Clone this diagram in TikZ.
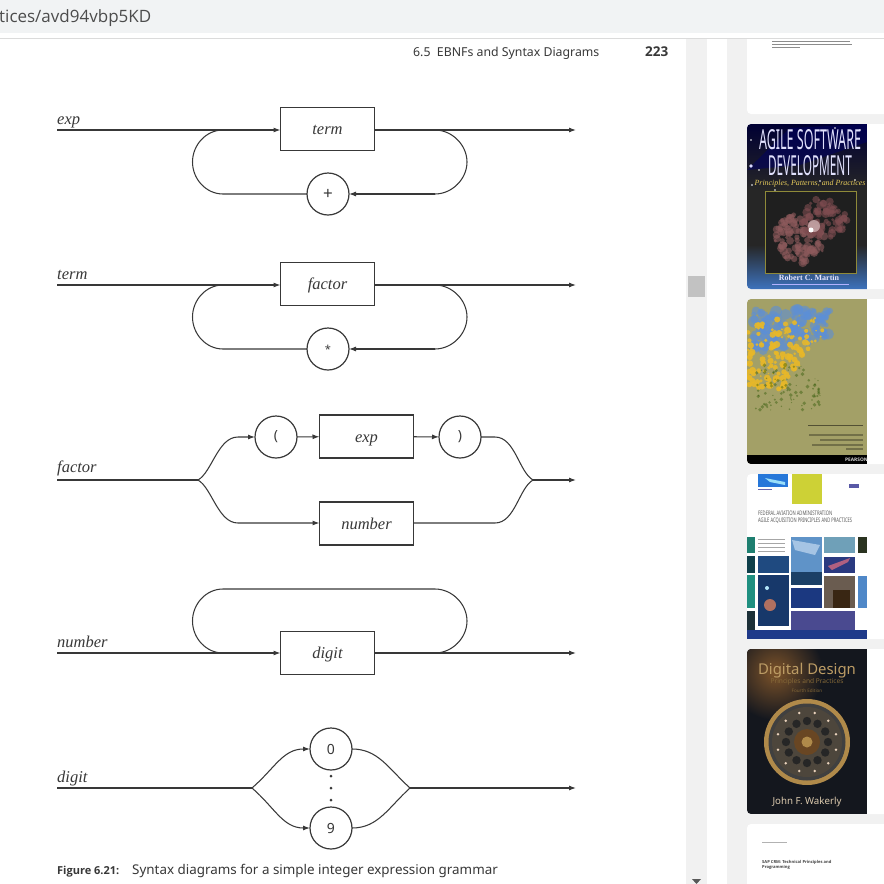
\documentclass[tikz,border=0pt]{standalone}
\usepackage{fontspec}
\usepackage{graphicx}
\setmainfont{Liberation Serif}
\newfontfamily\uifont{Open Sans}
\newfontfamily\hdfont{Noto Sans}
\usetikzlibrary{arrows.meta}
\definecolor{ink}{HTML}{383838}
\definecolor{chrome}{HTML}{F1F3F4}
\definecolor{track}{HTML}{F1F1F1}
\tikzset{
  wire/.style={draw=ink,line width=1.05pt},
  arr/.style={wire,-{Latex[length=7pt,width=5pt]}},
  termbox/.style={draw=ink,line width=1.2pt,minimum width=94pt,minimum height=43pt,inner sep=0pt,outer sep=0pt,text height=11pt,text depth=0pt,font=\itshape\fontsize{16.5}{16.5}\selectfont,text=ink},
  tok/.style={draw=ink,line width=1.2pt,circle,minimum size=42pt,inner sep=0pt,outer sep=0pt,font=\hdfont\fontsize{14}{14}\selectfont,text=ink},
  lab/.style={anchor=base west,inner sep=0pt,font=\itshape\fontsize{16.5}{16.5}\selectfont,text=ink},
  captxt/.style={anchor=base west,inner sep=0pt,font=\hdfont\fontsize{13.4}{13.4}\selectfont,text=ink},
  cardbg/.style={fill=white,rounded corners=4pt},
  covertext/.style={inner sep=0pt},
}
\begin{document}
\begin{tikzpicture}[x=1pt,y=-1pt]
\useasboundingbox (0,0) rectangle (884,884);
\fill[white] (0,0) rectangle (884,884);
% browser chrome
\fill[chrome] (0,0) rectangle (884,33);
\fill[color=black!14] (0,37.5) rectangle (884,39);
\begin{scope}
\clip (0,0) rectangle (884,33);
\node[anchor=base west,inner sep=0pt,font=\uifont\fontsize{17}{17}\selectfont,text=black!70] (url) at (-1,22) {tices/avd94vbp5KD};
\end{scope}
% scroll bar and side panel
\fill[track] (686,39) rectangle (707,884);
\fill[black!24] (688,276) rectangle (705,297);
\fill[black!65] (692,879) -- (701,879) -- (696.5,884) -- cycle;
\fill[track] (727,39) rectangle (884,884);

\begin{scope}
\clip (0,39) rectangle (884,884);
% card 1
\fill[cardbg] (747,30) rectangle (900,114);
\fill[black!45] (772,40.5) rectangle (850,42);
\fill[black!45] (772,43.5) rectangle (852,45);
\fill[black!45] (772,46.5) rectangle (800,48);

% cover 2 : Agile
\definecolor{agblue}{HTML}{3D72BC}
\definecolor{nebA}{HTML}{8E5A5C}
\definecolor{nebB}{HTML}{7E4C50}
\fill[cardbg] (747,124) rectangle (900,289);
\begin{scope}
\clip[rounded corners=4pt] (747,124) rectangle (880,289);
\shade[top color=black!80!blue,bottom color=black!85] (747,124) rectangle (867,190);
\fill[blue!40!black,opacity=.5] (747,170) -- (790,128) -- (867,124) -- (867,142) -- (800,165) -- cycle;
\shade[top color=black!85,bottom color=black!85] (747,190) rectangle (867,245);
\shade[top color=black!85,bottom color=agblue] (747,245) rectangle (867,289);
\fill[white] (867,124) rectangle (880,289);
\end{scope}
\draw[color=olive!60!gray,line width=1pt,fill=black!88] (765,191) rectangle (856,273);
\pgfmathsetseed{5}
\foreach \i in {1,...,110}{
  \pgfmathsetmacro{\ang}{rnd*360}
  \pgfmathsetmacro{\rad}{sqrt(rnd)}
  \pgfmathsetmacro{\dx}{800+26*\rad*cos(\ang)}
  \pgfmathsetmacro{\dy}{238+25*\rad*sin(\ang)}
  \pgfmathsetmacro{\dr}{1.5+rnd*3}
  \fill[color=nebA,opacity=.6] (\dx,\dy) circle (\dr pt);
}
\foreach \i in {1,...,90}{
  \pgfmathsetmacro{\ang}{rnd*360}
  \pgfmathsetmacro{\rad}{sqrt(rnd)}
  \pgfmathsetmacro{\dx}{824+23*\rad*cos(\ang)}
  \pgfmathsetmacro{\dy}{218+20*\rad*sin(\ang)}
  \pgfmathsetmacro{\dr}{1.5+rnd*3}
  \fill[color=nebB,opacity=.6] (\dx,\dy) circle (\dr pt);
}
\fill[white!70!pink,opacity=.5] (814,226) circle (6pt);
\fill[white] (811,230) circle (2.5pt);
\foreach \sx/\sy in {751/140,759/170,775/190,860/130,855/180,752/185,820/181,835/128}{\fill[white] (\sx,\sy) circle (0.8pt);}
\fill[white!85!blue] (751,166) circle (1.8pt);
\node[covertext,text=black!10!blue!12!white] (ag1) at (810,140) {\resizebox{102pt}{20pt}{\hdfont AGILE SOFTWARE}};
\node[covertext,text=black!10!blue!12!white] (ag2) at (810,165.5) {\resizebox{84pt}{20pt}{\hdfont DEVELOPMENT}};
\node[covertext,text=yellow!50!brown!80!white,font=\itshape\fontsize{7.9}{7.9}\selectfont] (ag3) at (810,184) {Principles, Patterns, and Practices};
\node[covertext,text=white!90!blue,font=\bfseries\fontsize{8}{8}\selectfont] (ag4) at (809,278) {Robert C. Martin};
\fill[white!70!blue] (772,283.5) rectangle (849,285);

% cover 3 : flowers
\definecolor{khaki}{HTML}{A3A067}
\definecolor{skyb}{HTML}{5C8FD8}
\definecolor{petal}{HTML}{E8B828}
\fill[cardbg] (747,299) rectangle (900,464);
\begin{scope}
\clip[rounded corners=4pt] (747,299) rectangle (880,464);
\fill[khaki] (747,299) rectangle (867,464);
\fill[black] (747,455) rectangle (867,464);
\fill[white] (867,299) rectangle (880,464);
\pgfmathsetseed{17}
\foreach \i in {1,...,110}{
  \pgfmathsetmacro{\dx}{752+rnd*78}
  \pgfmathsetmacro{\dy}{309+rnd*(44-(\dx-752)*0.2)}
  \pgfmathsetmacro{\dr}{2+rnd*4}
  \fill[color=skyb,opacity=.6] (\dx,\dy) circle (\dr pt);
}
\foreach \i in {1,...,150}{
  \pgfmathsetmacro{\dy}{318+rnd*72}
  \pgfmathsetmacro{\dx}{747+rnd*(88-(\dy-318)*0.75)}
  \pgfmathsetmacro{\dr}{0.8+rnd*2.8}
  \fill[color=petal,opacity=.9] (\dx,\dy) circle (\dr pt);
}
\foreach \i in {1,...,90}{
  \pgfmathsetmacro{\dy}{365+rnd*45}
  \pgfmathsetmacro{\dx}{755+rnd*65}
  \pgfmathsetmacro{\dr}{0.5+rnd*1.5}
  \fill[green!25!black!70!olive,opacity=.4] (\dx,\dy) circle (\dr pt);
}
\end{scope}
\fill[black!50!khaki] (808,424.5) rectangle (863,426);
\fill[black!30!khaki] (809,434) rectangle (863,436);
\fill[black!30!khaki] (820,439) rectangle (863,441);
\fill[black!30!khaki] (812,443.5) rectangle (863,445.5);
\fill[black!30!khaki] (846,448) rectangle (863,450);
\node[anchor=west,covertext,text=white!85!black,font=\uifont\bfseries\fontsize{4.8}{4.8}\selectfont] (pe) at (845,459.5) {PEARSON};

% cover 4 : FAA
\fill[cardbg] (747,474) rectangle (900,639);
\fill[blue!55!cyan!70!gray] (758,474) rectangle (788,487);
\fill[color=white!60!cyan] (765,478) -- (785,482) -- (785,485) -- (770,482) -- cycle;
\fill[black!55!blue!60!white] (758,488.5) rectangle (772,490);
\definecolor{lime}{HTML}{CDD136}
\fill[lime] (792,474) rectangle (822,504);
\fill[blue!30!gray] (849,484) rectangle (859,488);
\node[anchor=west,covertext,text=black!65] (fa1) at (758,513.5) {\resizebox{74pt}{4.5pt}{\hdfont FEDERAL AVIATION ADMINISTRATION}};
\node[anchor=west,covertext,text=black!65] (fa2) at (758,520.5) {\resizebox{94pt}{4.5pt}{\hdfont AGILE ACQUISITION PRINCIPLES AND PRACTICES}};
\foreach \xa/\ya/\xb/\yb/\cc in {
 747/537/755/553/1E7F70,
 747/556/755/573/0F3F4A,
 747/575/755/608/1F8F80,
 747/611/755/630/1C3038,
 791/537/822/585/5F93C8,
 824/537/855/553/6FA0B8,
 858/537/867/553/2A3320,
 758/556/789/573/1F4A80,
 824/557/855/573/2A3A80,
 758/575/789/626/17386A,
 791/588/822/608/1B3880,
 824/576/855/608/6A5C50,
 858/576/867/608/4F88C8,
 791/611/855/630/4A4A90,
 747/630/867/639/1F3A8A}{
  \definecolor{tile}{HTML}{\cc}
  \fill[tile] (\xa,\ya) rectangle (\xb,\yb);
}
\definecolor{cloud}{HTML}{A5C4E4}
\definecolor{deep}{HTML}{1B3F66}
\definecolor{streak}{HTML}{B06080}
\definecolor{hand}{HTML}{B07060}
\fill[cloud] (792,540) -- (820,545) -- (815,555) -- (795,550) -- cycle;
\fill[deep] (791,572) rectangle (822,585);
\fill[black!70!brown] (833,590) rectangle (850,608);
\fill[streak] (828,566) -- (850,558) -- (848,562) -- (832,570) -- cycle;
\fill[hand] (770,605) circle (6pt);
\fill[white!70!cyan] (767,588) circle (2pt);
\foreach \ly in {539,543,547,551}{\fill[black!35] (758,\ly) rectangle (785,\ly+1);}

% cover 5 : Digital Design
\definecolor{dd}{HTML}{14171E}
\definecolor{gold}{HTML}{B08A4A}
\definecolor{hub}{HTML}{4D463C}
\fill[cardbg] (747,649) rectangle (900,814);
\begin{scope}
\clip[rounded corners=4pt] (747,649) rectangle (880,814);
\fill[dd] (747,649) rectangle (867,814);
\shade[inner color=brown!65!black,outer color=dd] (775,672) circle (48pt);
\fill[white] (867,649) rectangle (880,814);
\end{scope}
\fill[gold] (807,742) circle (43pt);
\fill[black!75] (807,742) circle (38.5pt);
\fill[hub] (807,742) circle (35pt);
\foreach \a in {0,30,...,330}{
  \fill[black!85] (807,742) ++(\a:21pt) circle (4.2pt);
  \fill[white!65!brown] (807,742) ++(\a+15:30pt) circle (1.4pt);
}
\fill[black!45!brown] (807,742) circle (13pt);
\fill[gold] (807,742) circle (5.5pt);
\node[covertext,text=gold!85!white,font=\hdfont\fontsize{14.9}{14.9}\selectfont] (dd1) at (807,671) {Digital Design};
\node[covertext,text=gold!75!black,font=\hdfont\fontsize{6.6}{6.6}\selectfont] (dd2) at (807,682) {Principles and Practices};
\node[covertext,text=gold!75!black,font=\hdfont\fontsize{4.6}{4.6}\selectfont] (dd3) at (807,690.5) {Fourth Edition};
\node[covertext,text=gold!45!white,font=\hdfont\fontsize{9.7}{9.7}\selectfont] (dd4) at (807,802) {John F. Wakerly};

% card 6
\fill[cardbg] (747,824) rectangle (900,900);
\fill[black!30] (762,841.5) rectangle (787,843);
\node[anchor=west,covertext,text=black!75,font=\uifont\bfseries\fontsize{4.1}{5.6}\selectfont,align=left] (sap) at (762,865) {SAP CRM: Technical Principles and\\Programming};
\end{scope}

% page running head
\node[anchor=base west,inner sep=0pt,font=\hdfont\fontsize{12.3}{12.3}\selectfont,text=ink] (head) at (413,56) {6.5\ \ EBNFs and Syntax Diagrams};
\node[anchor=base west,inner sep=0pt,font=\uifont\bfseries\fontsize{13.5}{13.5}\selectfont,text=ink] (pg) at (645,56) {223};

% ---- exp ----
\node[lab] (lexp) at (57,124) {exp};
\coordinate (a0) at (57,130);
\coordinate (a1) at (223,130);
\coordinate (a2) at (435,130);
\coordinate (aend) at (576,130);
\coordinate (a3) at (435,194);
\coordinate (a4) at (223,194);
\node[termbox] (tterm) at (327.5,129) {term};
\node[tok,font=\hdfont\fontsize{17}{17}\selectfont] (plus) at (328,194) {+};
\draw[arr] (a0) -- (tterm.west |- a0);
\draw[arr] (tterm.east |- a0) -- (aend);
\draw[wire] (a1) .. controls (206,130) and (192.5,145) .. (192.5,162) .. controls (192.5,179) and (206,194) .. (a4) -- (plus);
\draw[wire] (a2) .. controls (452,130) and (467,145) .. (467,162) .. controls (467,179) and (452,194) .. (a3);
\draw[arr] (a3) -- (plus);

% ---- term ----
\node[lab] (lterm) at (57,279) {term};
\coordinate (b0) at (57,285);
\coordinate (b1) at (223,285);
\coordinate (b2) at (435,285);
\coordinate (bend) at (576,285);
\coordinate (b3) at (435,349);
\coordinate (b4) at (223,349);
\node[termbox] (tfactor) at (327.5,284) {factor};
\node[tok,font=\hdfont\fontsize{11}{11}\selectfont] (star) at (328,349) {*};
\draw[arr] (b0) -- (tfactor.west |- b0);
\draw[arr] (tfactor.east |- b0) -- (bend);
\draw[wire] (b1) .. controls (206,285) and (192.5,300) .. (192.5,317) .. controls (192.5,334) and (206,349) .. (b4) -- (star);
\draw[wire] (b2) .. controls (452,285) and (467,300) .. (467,317) .. controls (467,334) and (452,349) .. (b3);
\draw[arr] (b3) -- (star);

% ---- factor ----
\node[lab] (lfactor) at (57,472) {factor};
\coordinate (c0) at (57,480);
\coordinate (cj) at (198,480);
\coordinate (ck) at (533,480);
\coordinate (cend) at (576,480);
\coordinate (cu1) at (238,437);
\coordinate (cu2) at (495,437);
\coordinate (cl1) at (238,523);
\coordinate (cl2) at (495,523);
\node[tok,font=\hdfont\fontsize{14}{14}\selectfont] (lp) at (276,437) {(};
\node[termbox] (texp) at (366.5,436.5) {exp};
\node[tok,font=\hdfont\fontsize{14}{14}\selectfont] (rp) at (460,437) {)};
\node[termbox] (tnum) at (366.5,523.5) {number};
\draw[wire] (c0) -- (cj);
\draw[arr] (cj) .. controls (212,472) and (218,437) .. (cu1) -- (lp);
\draw[arr] (lp) -- (texp);
\draw[arr] (texp) -- (rp);
\draw[wire] (rp) -- (cu2) .. controls (515,437) and (519,472) .. (ck);
\draw[arr] (cj) .. controls (212,488) and (218,523) .. (cl1) -- (tnum.west |- cl1);
\draw[wire] (tnum.east |- cl2) -- (cl2) .. controls (515,523) and (519,488) .. (ck);
\draw[arr] (ck) -- (cend);

% ---- number ----
\node[lab] (lnum) at (57,647) {number};
\coordinate (d0) at (57,653);
\coordinate (d1) at (223,653);
\coordinate (d2) at (435,653);
\coordinate (dend) at (576,653);
\node[termbox] (tdigit) at (327.5,653) {digit};
\draw[arr] (d0) -- (tdigit);
\draw[arr] (tdigit) -- (dend);
\draw[wire] (d1) .. controls (206,653) and (192.5,638) .. (192.5,621) .. controls (192.5,604) and (206,589) .. (223,589) -- (435,589) .. controls (452,589) and (467,604) .. (467,621) .. controls (467,638) and (452,653) .. (d2);

% ---- digit ----
\node[lab] (ldigit) at (57,782) {digit};
\coordinate (e0) at (57,788);
\coordinate (ej) at (252,788);
\coordinate (ek) at (410,788);
\coordinate (eend) at (576,788);
\node[tok] (zero) at (331,749) {0};
\node[tok] (nine) at (331,828) {9};
\draw[wire] (e0) -- (ej);
\draw[arr] (ek) -- (eend);
\draw[arr] (ej) .. controls (275,768) and (283,749) .. (zero.west);
\draw[arr] (ej) .. controls (275,808) and (283,828) .. (nine.west);
\draw[wire] (zero.east) .. controls (378,749) and (388,768) .. (ek);
\draw[wire] (nine.east) .. controls (378,828) and (388,808) .. (ek);
\foreach \dy in {776,788,800}{\fill[ink] (331,\dy) circle (1.5pt);}

% caption
\node[captxt,font=\uifont\bfseries\fontsize{11}{11}\selectfont] (figno) at (57,874) {Figure 6.21:};
\node[captxt] (figcap) at (132,874) {Syntax diagrams for a simple integer expression grammar};
\end{tikzpicture}
\end{document}
